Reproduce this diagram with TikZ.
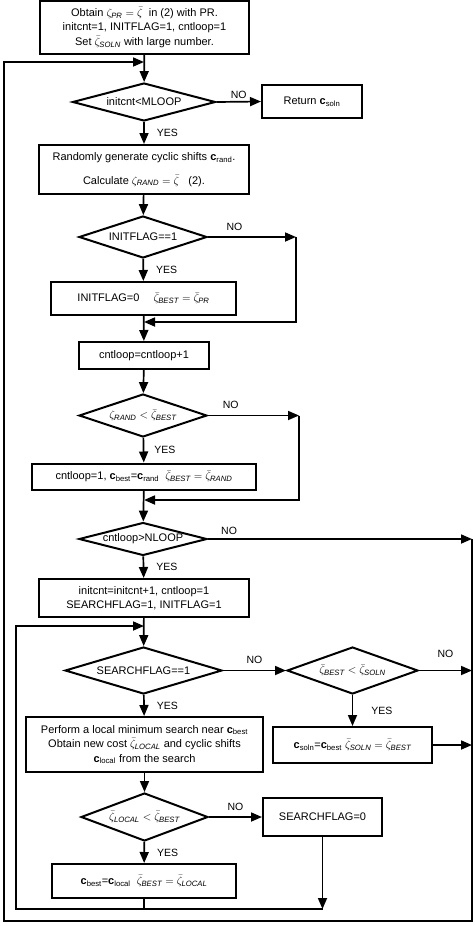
\documentclass[tikz,border=0pt]{standalone}
\usepackage{fontspec}
\setmainfont{Liberation Sans}
\usetikzlibrary{shapes.geometric,arrows.meta,calc}

\newcommand{\zb}[1]{\bar{\zeta}_{\mathit{#1}}}
\newcommand{\cv}[1]{\textbf{c}\textsubscript{#1}}

\begin{document}
\begin{tikzpicture}[x=1pt, y=-1pt,
    font=\fontsize{11}{14.5}\selectfont,
    box/.style={rectangle, draw, line width=2pt, align=center, inner sep=2pt},
    decision/.style={diamond, draw, line width=2pt, inner sep=0pt},
    arr/.style={-{Triangle[length=11pt,width=9pt]}, line width=1.7pt},
    flow/.style={line width=1.7pt},
    lbl/.style={font=\fontsize{10.5}{12}\selectfont, inner sep=2pt}]

    \useasboundingbox (0,0) rectangle (474,926);

    \node[box, minimum width=209pt, minimum height=53pt] (init) at (144.5,27.5)
        {Obtain $\zeta_{\mathit{PR}}=\bar{\zeta}$ \ in (2) with PR.\\ initcnt=1, INITFLAG=1, cntloop=1\\ Set $\zb{SOLN}$ with large number.};
    \node[decision, minimum width=143pt, minimum height=38pt, label=center:{initcnt<MLOOP}] (mloop) at (144,102) {};
    \node[box, minimum width=100pt, minimum height=33pt] (ret) at (312,101.5) {Return \cv{soln}};
    \node[box, minimum width=210pt, minimum height=49pt] (rand) at (144,169.5)
        {Randomly generate cyclic shifts \cv{rand}.\\[9pt] Calculate $\zeta_{\mathit{RAND}}=\bar{\zeta}$ \ \ (2).};
    \node[decision, minimum width=128pt, minimum height=42pt, label=center:{INITFLAG==1}] (iflag) at (143,237) {};
    \node[box, minimum width=185pt, minimum height=33pt] (iflag0) at (143.5,298.5) {INITFLAG=0 \quad $\zb{BEST}=\zb{PR}$};
    \node[box, minimum width=130pt, minimum height=27pt] (incr) at (144,355.5) {cntloop=cntloop+1};
    \node[decision, minimum width=128pt, minimum height=43pt, label=center:{$\zeta_{\mathit{RAND}} < \zb{BEST}$}] (cmp) at (143,415.5) {};
    \node[box, minimum width=224pt, minimum height=26pt] (upd) at (144,476.5)
        {cntloop=1, \cv{best}=\cv{rand} \ $\zb{BEST}=\zb{RAND}$};
    \node[decision, minimum width=128pt, minimum height=33pt, label=center:{cntloop>NLOOP}] (nloop) at (143,539) {};
    \node[box, minimum width=210pt, minimum height=38pt] (reset) at (144,598)
        {initcnt=initcnt+1, cntloop=1\\ SEARCHFLAG=1, INITFLAG=1};
    \node[decision, minimum width=157pt, minimum height=47pt, label=center:{SEARCHFLAG==1}] (sflag) at (143.5,670.5) {};
    \node[decision, minimum width=131pt, minimum height=47pt, label=center:{$\zb{BEST} < \zb{SOLN}$}] (cmpsoln) at (352.5,670.5) {};
    \node[box, minimum width=237pt, minimum height=55pt] (search) at (144.5,744.5)
        {Perform a local minimum search near \cv{best}\\ Obtain new cost $\zb{LOCAL}$ and cyclic shifts\\ \cv{local} from the search};
    \node[box, minimum width=159pt, minimum height=36pt] (savesoln) at (352.5,745)
        {\cv{soln}=\cv{best} $\zb{SOLN}=\zb{BEST}$};
    \node[decision, minimum width=127pt, minimum height=48pt, label=center:{$\zb{LOCAL} < \zb{BEST}$}] (cmplocal) at (144.5,817) {};
    \node[box, minimum width=119pt, minimum height=38pt] (sflag0) at (322.5,817) {SEARCHFLAG=0};
    \node[box, minimum width=184pt, minimum height=34pt] (updlocal) at (144,881)
        {\cv{best}=\cv{local} \ $\zb{BEST}=\zb{LOCAL}$};

    \coordinate (top) at (144,62);
    \coordinate (r1) at (296,237);
    \coordinate (j1) at (144,322);
    \coordinate (r2) at (299,415.5);
    \coordinate (j2) at (144,500);
    \coordinate (o1) at (472,539);
    \coordinate (j3) at (144,626);
    \coordinate (o2) at (472,670.5);
    \coordinate (o3) at (472,745);
    \coordinate (b1) at (322.5,909);
    \coordinate (bl) at (16,909);
    \coordinate (ob) at (472,921);
    \coordinate (obl) at (4,921);

    \draw[arr] (init) -- (mloop);
    \draw[arr] (mloop.east) -- node[lbl, above] {NO} (ret.west);
    \draw[arr] (mloop) -- node[lbl, right=10pt] {YES} (rand);
    \draw[arr] (rand) -- (iflag);
    \draw[arr] (iflag.east) -- node[lbl, above=4pt, pos=0.3] {NO} (r1);
    \draw[arr] (r1) |- (j1);
    \draw[arr] (iflag) -- node[lbl, right=10pt] {YES} (iflag0);
    \draw[arr] (iflag0) -- (incr);
    \draw[arr] (incr) -- (cmp);
    \draw[arr] (cmp.east) -- node[lbl, above=4pt, pos=0.25] {NO} (r2);
    \draw[arr] (r2) |- (j2);
    \draw[arr] (cmp) -- node[lbl, right=8pt] {YES} (upd);
    \draw[arr] (upd) -- (nloop);
    \draw[arr] (nloop.east) -- node[lbl, above=2pt, pos=0.08] {NO} (o1);
    \draw[arr] (nloop) -- node[lbl, right=10pt] {YES} (reset);
    \draw[arr] (reset) -- (sflag);
    \draw[arr] (sflag.east) -- node[lbl, above=4pt] {NO} (cmpsoln.west);
    \draw[arr] (cmpsoln.east) -- node[lbl, above=10pt] {NO} (o2);
    \draw[arr] (sflag) -- node[lbl, right=10pt] {YES} (search);
    \draw[arr] (cmpsoln) -- node[lbl, right=16pt] {YES} (savesoln);
    \draw[arr] (savesoln.east) -- (o3);
    \draw[arr] (search) -- (cmplocal);
    \draw[arr] (cmplocal.east) -- node[lbl, above=4pt] {NO} (sflag0.west);
    \draw[arr] (cmplocal) -- node[lbl, right=10pt] {YES} (updlocal);
    \draw[arr] (sflag0.south) -- (b1);
    \draw[flow] (updlocal.south) -- (updlocal.south |- bl);
    \draw[arr] (b1) -- (bl) |- (j3);
    \draw[arr] (o1) -- (ob) -- (obl) |- (top);
\end{tikzpicture}
\end{document}
